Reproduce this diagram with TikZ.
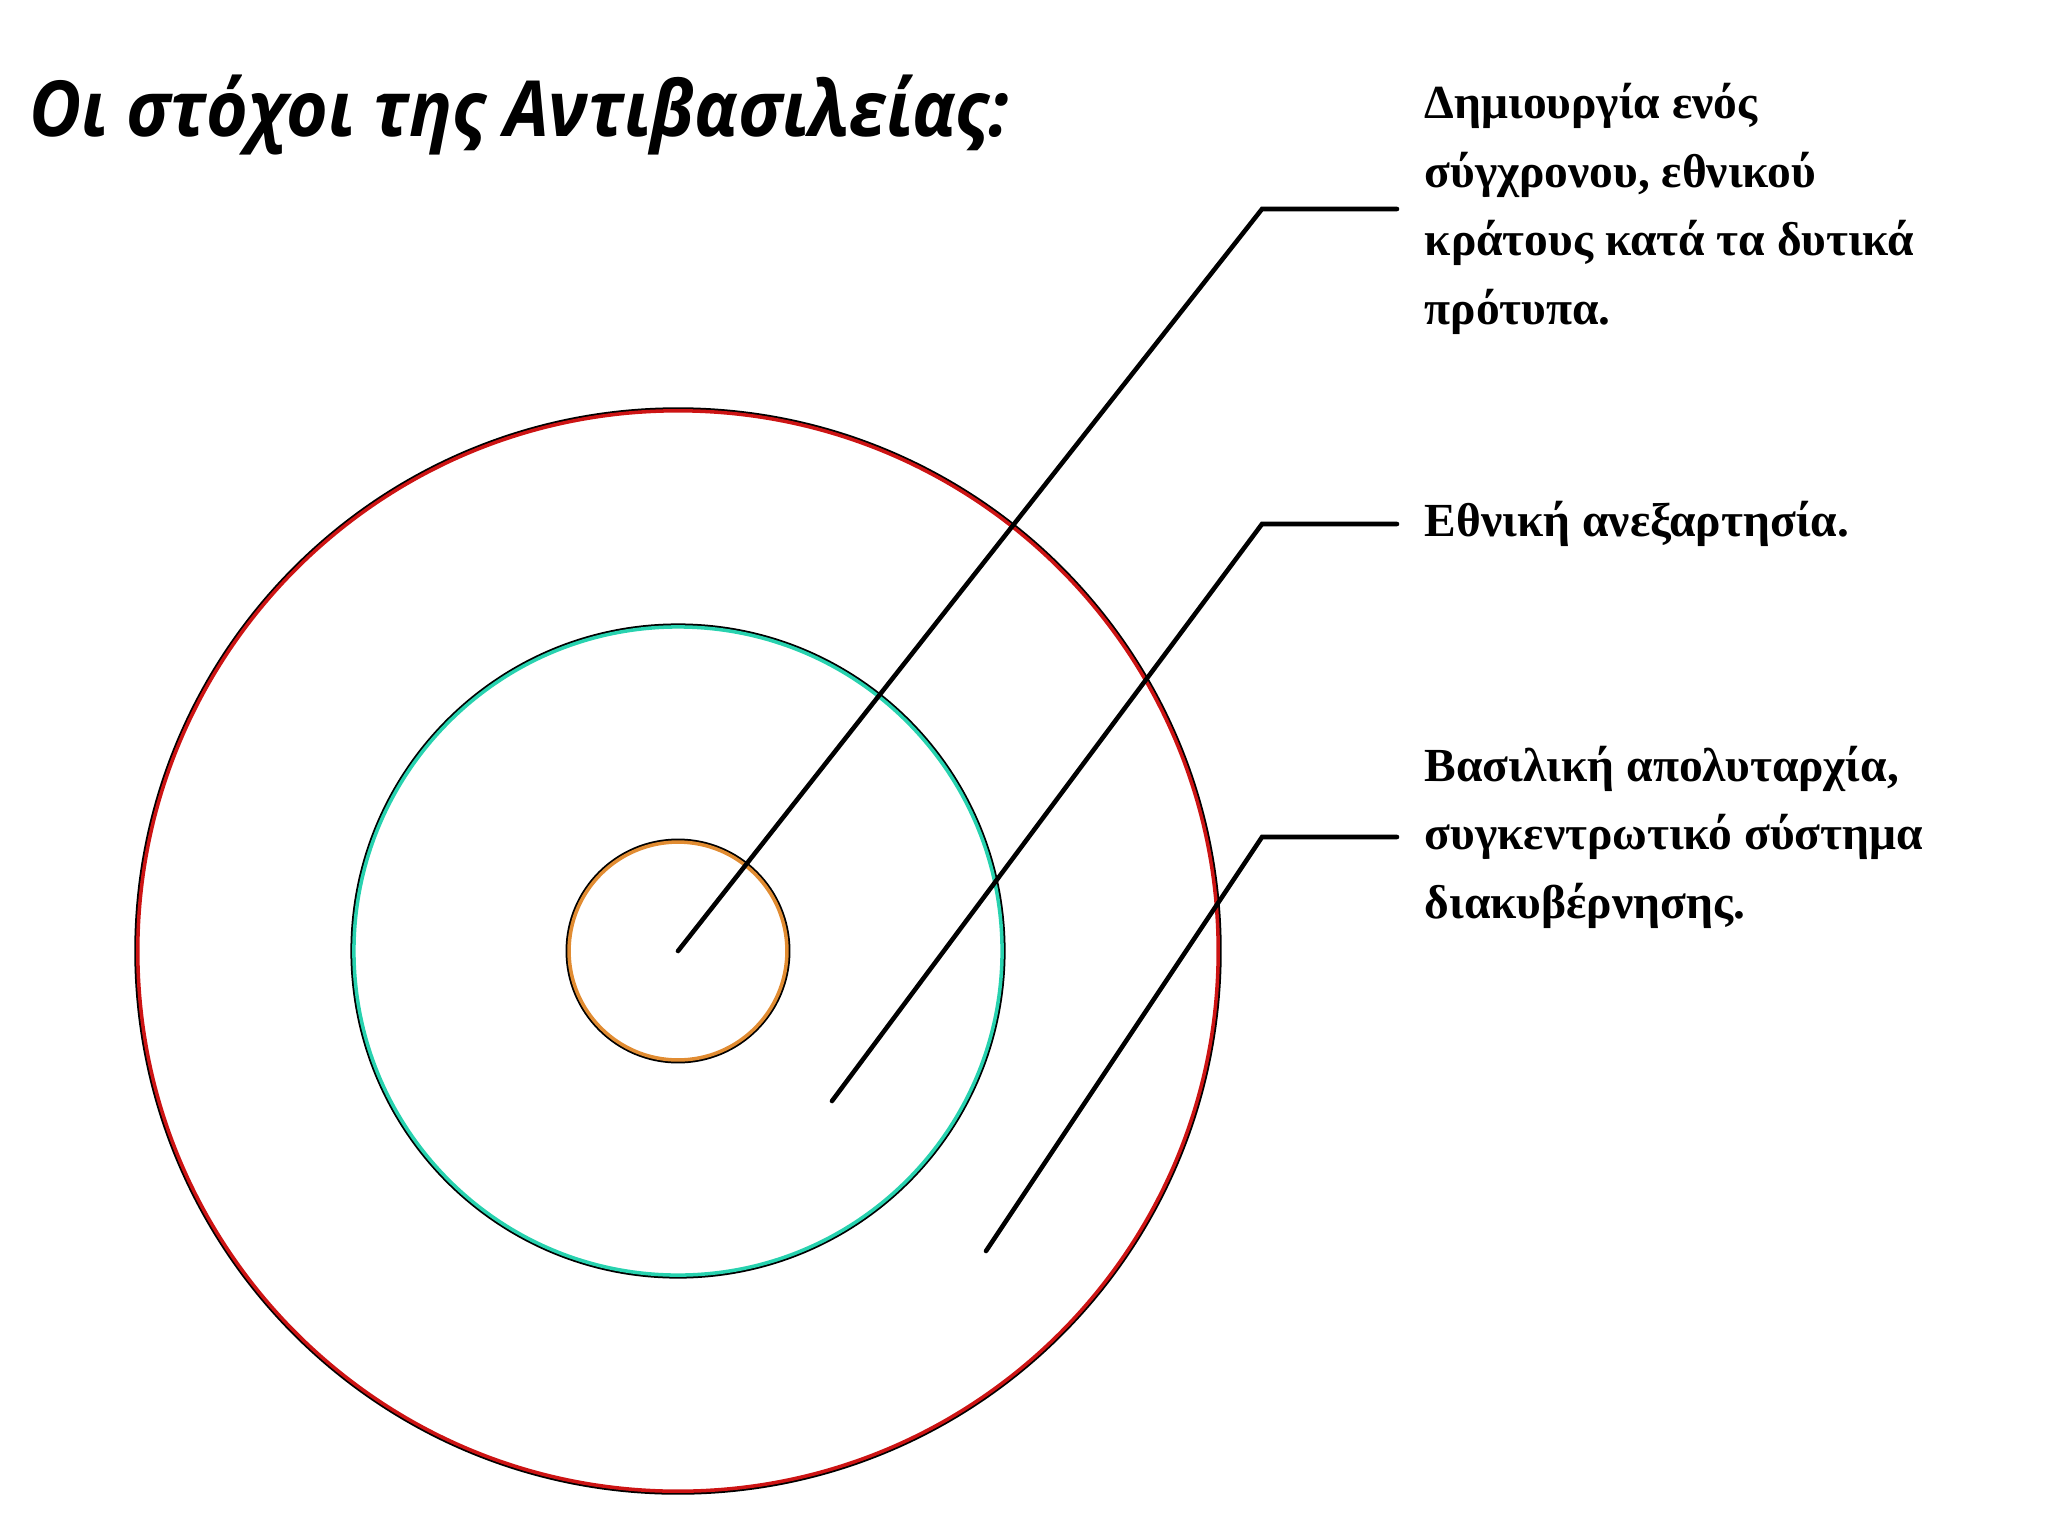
\documentclass[tikz,border=0pt]{standalone}
\usepackage{fontspec}
\setmainfont{Liberation Serif}
\newfontfamily\titlefont[FakeStretch=0.925]{Open Sans}
\usetikzlibrary{positioning}

\definecolor{ringred}{RGB}{205,20,20}
\definecolor{ringteal}{RGB}{40,210,175}
\definecolor{ringorange}{RGB}{225,140,50}

\begin{document}
\begin{tikzpicture}[x=0.01cm, y=-0.01cm,
        goal/.style={anchor=west, align=left, inner xsep=0.27cm, inner ysep=0pt,
                     font=\bfseries\fontsize{13.5}{19.5}\selectfont},
        pointer/.style={line width=1.3pt, black, line cap=round},
    ]
        \useasboundingbox (0,0) rectangle (2048,1536);

        % Τίτλος
        \node[anchor=west, inner sep=0pt, font=\titlefont\bfseries\itshape\fontsize{22}{26}\selectfont]
            (title) at (29,115) {Οι στόχοι της Αντιβασιλείας:};

        % Κύκλοι
        \coordinate (C) at (678,951);
        \foreach \r/\c in {5.42/ringred, 3.26/ringteal, 1.11/ringorange} {
            \draw[black, line width=0.8pt] (C) circle[radius=\r cm];
            \draw[\c, line width=1pt] (C) circle[radius=\r cm - 0.6pt];
        }

        % Στόχοι
        \node[goal] (g1) at (1397,209) {Δημιουργία ενός\\σύγχρονου, εθνικού\\κράτους κατά τα δυτικά\\πρότυπα.};
        \node[goal] (g2) at (1397,524) {Εθνική ανεξαρτησία.};
        \node[goal] (g3) at (1397,837) {Βασιλική απολυταρχία,\\συγκεντρωτικό σύστημα\\διακυβέρνησης.};

        % Γραμμές
        \coordinate (s2) at (832,1101);
        \coordinate (s3) at (986,1251);
        \coordinate (b1) at (1262,209);
        \coordinate (b2) at (1262,524);
        \coordinate (b3) at (1262,837);
        \draw[pointer] (C)  -- (b1) -- (g1.west);
        \draw[pointer] (s2) -- (b2) -- (g2.west);
        \draw[pointer] (s3) -- (b3) -- (g3.west);
\end{tikzpicture}
\end{document}
